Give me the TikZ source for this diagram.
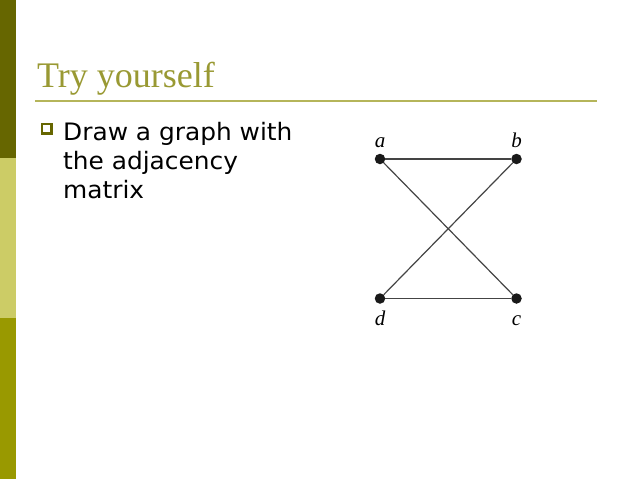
\documentclass[tikz,border=0pt]{standalone}
\usepackage{fontspec}
\setmainfont{Liberation Serif}
\newfontfamily\bodyfont[FakeStretch=1.035]{DejaVu Sans}
\usepackage{tikz}
\usetikzlibrary{positioning}
\definecolor{oliveDark}{HTML}{666600}
\definecolor{oliveLight}{HTML}{CCCC66}
\definecolor{oliveMid}{HTML}{999900}
\definecolor{titleOlive}{HTML}{999933}
\definecolor{ruleOlive}{HTML}{B5B55A}
\definecolor{edgeGray}{HTML}{444444}
\tikzset{
  vertex/.style={circle, fill=black!90, inner sep=0pt, minimum size=10.5pt},
  vlabel/.style={anchor=base, font=\fontsize{21}{23}\selectfont\itshape, inner sep=0pt},
  bodyline/.style={anchor=base west, inner sep=0pt, font=\bodyfont\fontsize{24}{29}\selectfont},
  edge/.style={draw=edgeGray, line width=1.2pt}
}

\begin{document}
\begin{tikzpicture}[x=1pt, y=-1pt]
  \useasboundingbox (0,0) rectangle (638,479);
  % side bar
  \fill[oliveDark] (0,0) rectangle (16,158);
  \fill[oliveLight] (0,158) rectangle (16,318);
  \fill[oliveMid] (0,318) rectangle (16,479);
  % title
  \node (title) [anchor=base west, inner sep=0pt, text=titleOlive,
    font=\fontsize{36}{40}\selectfont] at (37,87) {Try yourself};
  \draw[ruleOlive, line width=2pt] (35,101) -- (597,101);
  % bullet text
  \node (bullet) [draw=oliveDark, line width=2.5pt, inner sep=0pt, minimum size=9.5pt] at (46.5,128.5) {};
  \node (line1) [bodyline] at (63,140) {Draw a graph with};
  \node (line2) [bodyline] at ([yshift=-29pt]line1.base west) {the adjacency};
  \node (line3) [bodyline] at ([yshift=-29pt]line2.base west) {matrix};
  % graph
  \node (a) [vertex] at (380,159) {};
  \node (b) [vertex] at (516.5,159) {};
  \node (c) [vertex] at (516.5,298.5) {};
  \node (d) [vertex] at (380,298.5) {};
  \node (la) [vlabel] at ([yshift=12pt]a) {a};
  \node (lb) [vlabel] at ([yshift=12pt]b) {b};
  \node (lc) [vlabel] at ([yshift=-26.5pt]c) {c};
  \node (ld) [vlabel] at ([yshift=-26.5pt]d) {d};
  \draw[edge] (a) -- (b);
  \draw[edge] (d) -- (c);
  \draw[edge] (a) -- (c);
  \draw[edge] (b) -- (d);
\end{tikzpicture}
\end{document}
